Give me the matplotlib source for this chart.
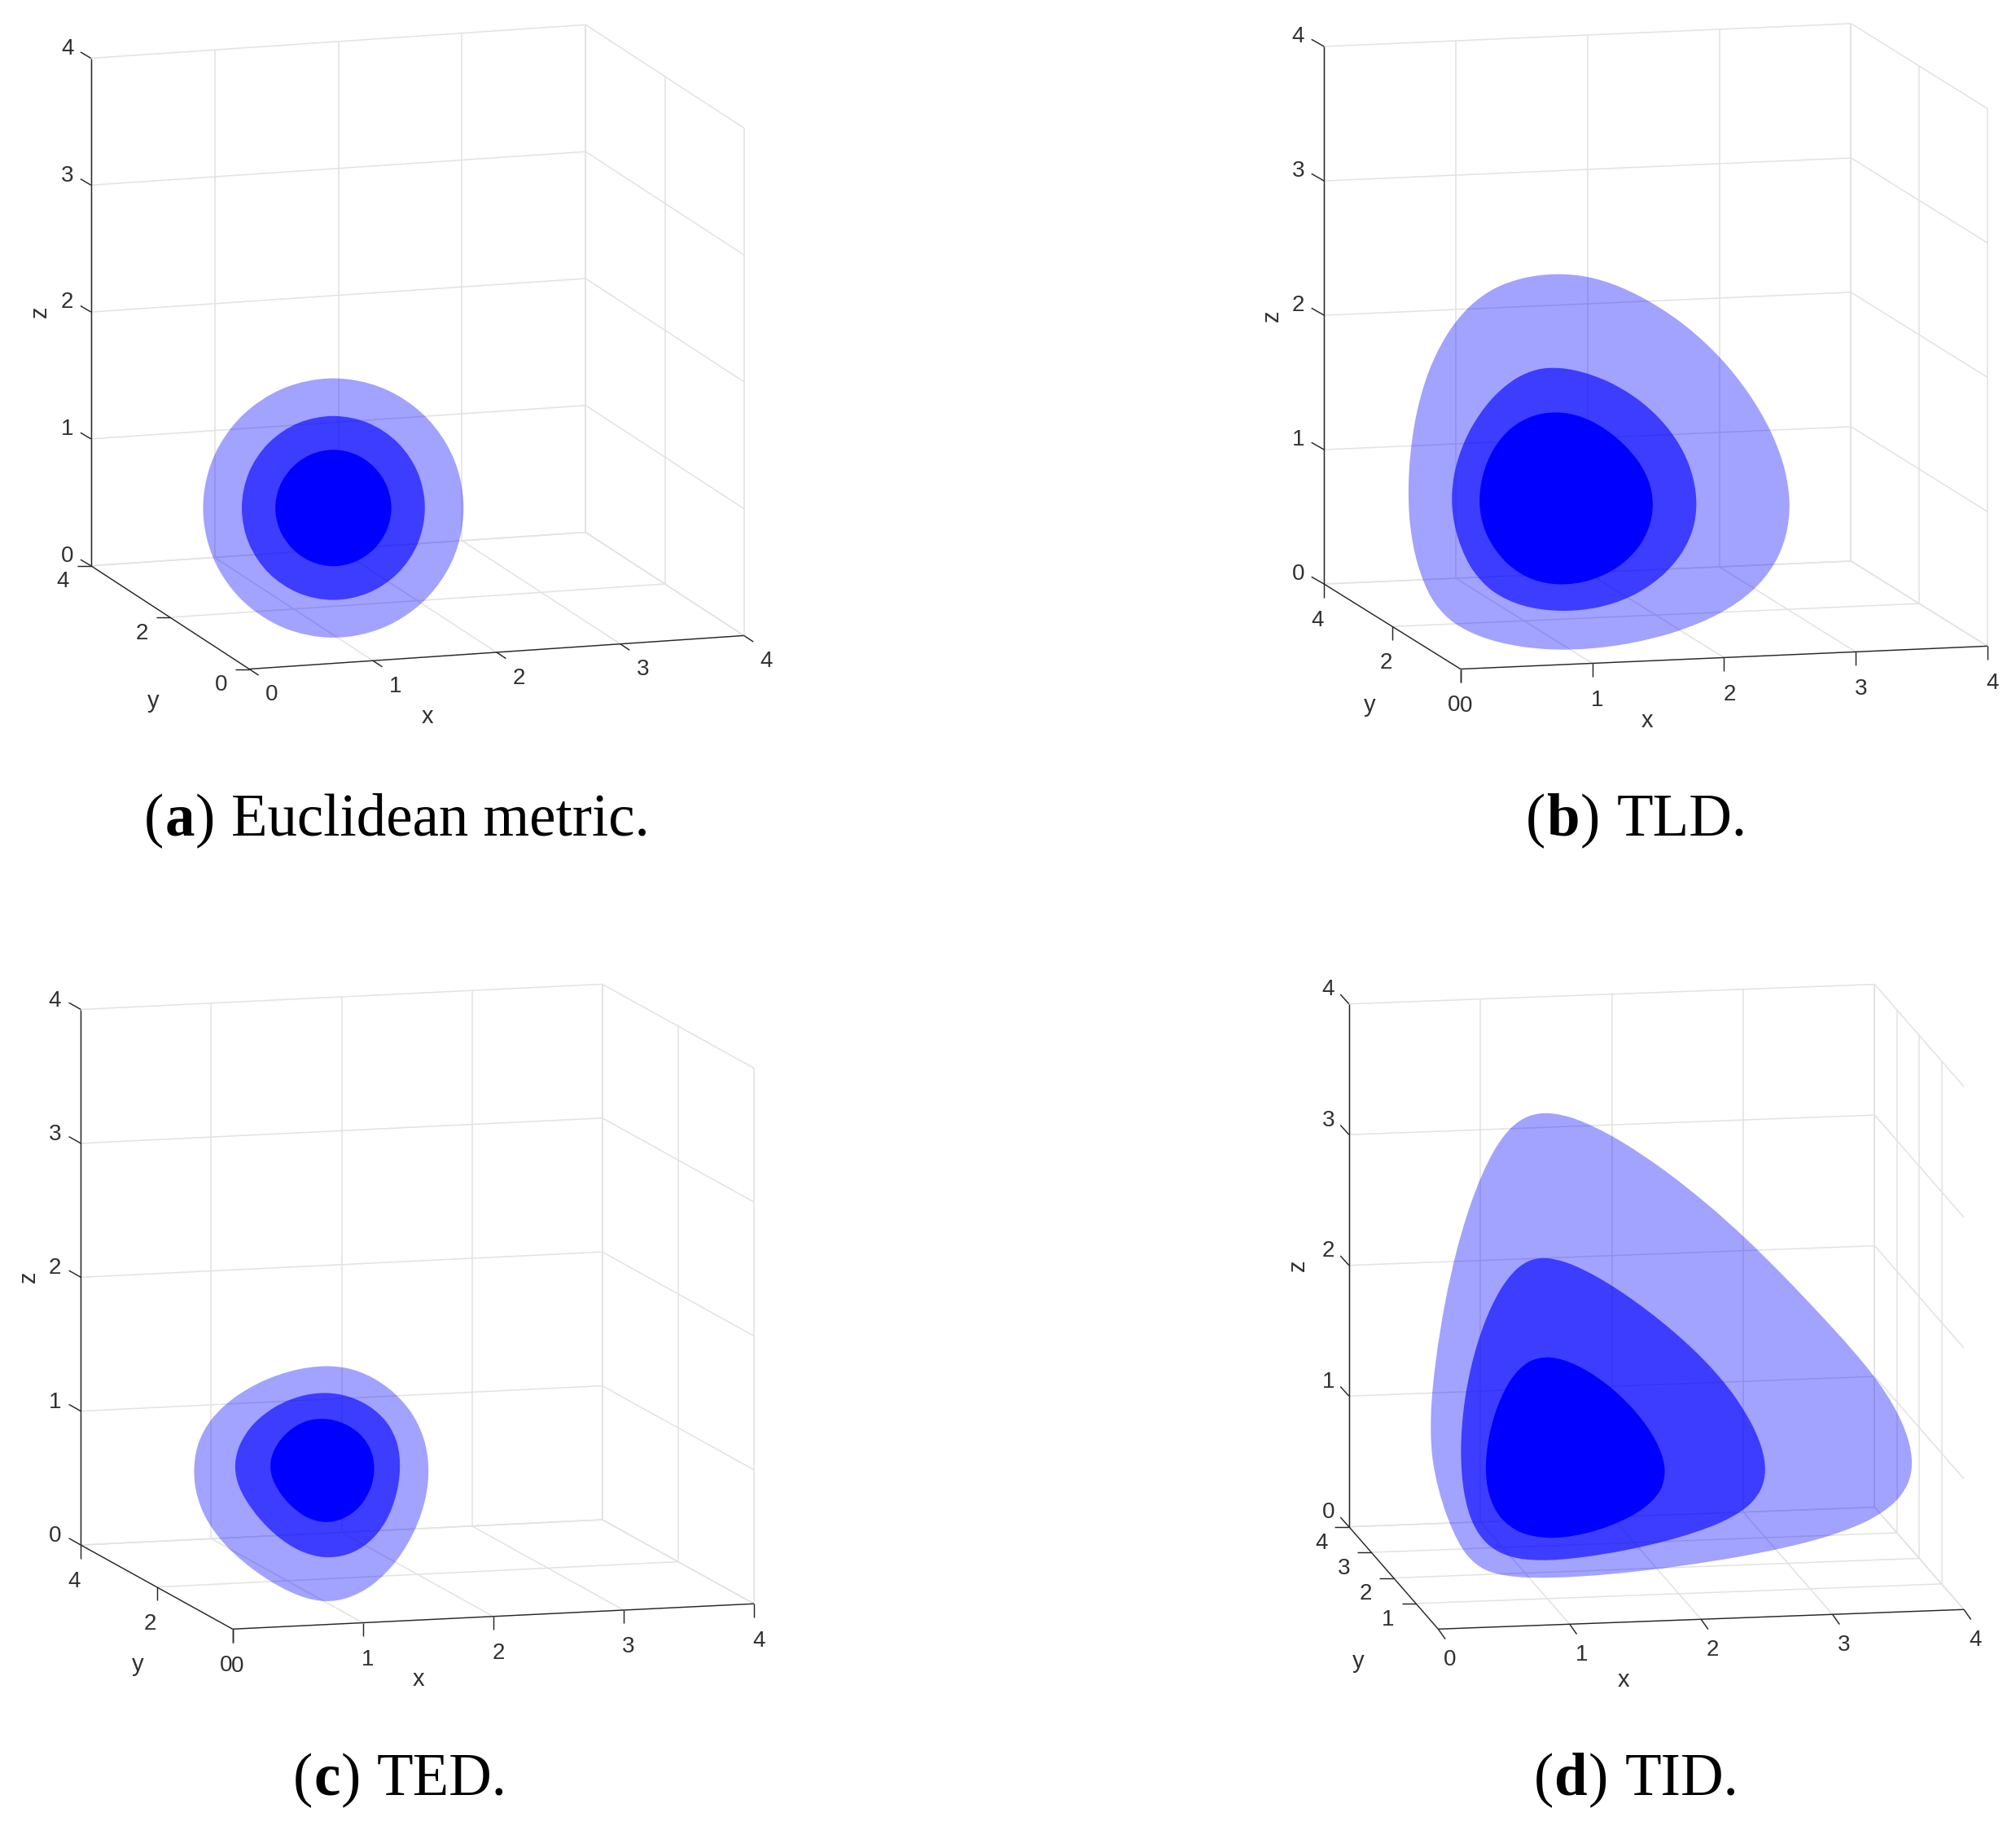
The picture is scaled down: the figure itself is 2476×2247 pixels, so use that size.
import numpy as np
import matplotlib
matplotlib.use("Agg")
import matplotlib.pyplot as plt
from matplotlib.path import Path
from matplotlib.patches import PathPatch

# ---- data: silhouettes of the three level surfaces, as (dx, dz) offsets in axis units
# ---- from the common centre point (x, y, z)
center = (1.0, 1.0, 1.0)

a_outer_dx = [1.05, .97, .74, .40, 0, -.40, -.74, -.97, -1.05, -.97, -.74, -.40, 0, .40, .74, .97]
a_outer_dz = [0, .39, .72, .94, 1.02, .94, .72, .39, 0, -.39, -.72, -.94, -1.02, -.94, -.72, -.39]
a_mid_dx = [.74, .68, .52, .28, 0, -.28, -.52, -.68, -.74, -.68, -.52, -.28, 0, .28, .52, .68]
a_mid_dz = [0, .28, .51, .67, .72, .67, .51, .28, 0, -.28, -.51, -.67, -.72, -.67, -.51, -.28]
a_inner_dx = [.47, .43, .33, .18, 0, -.18, -.33, -.43, -.47, -.43, -.33, -.18, 0, .18, .33, .43]
a_inner_dz = [0, .17, .32, .42, .46, .42, .32, .17, 0, -.17, -.32, -.42, -.46, -.42, -.32, -.17]

b_outer_dx = [0, .225, .451, .719, .987, 1.224, 1.44, 1.615, 1.718, 1.749, 1.724, 1.625, 1.481, 1.234, .904, .554, .245, 0, -.311, -.579, -.806, -.929, -1.022, -1.094, -1.135, -1.125, -1.073, -.991, -.847, -.672, -.496, -.27]
b_outer_dz = [1.733, 1.713, 1.642, 1.519, 1.333, 1.121, .848, .566, .283, .02, -.202, -.424, -.606, -.788, -.919, -1.004, -1.04, -1.051, -1.03, -.96, -.848, -.707, -.525, -.283, -.02, .303, .707, .99, 1.273, 1.495, 1.616, 1.707]
b_mid_dx = [0, .22, .43, .64, .81, .95, 1.02, 1.04, 1.02, .93, .78, .55, .31, 0, -.27, -.50, -.64, -.73, -.79, -.80, -.77, -.66, -.52, -.31, -.15]
b_mid_dz = [1.03, 1.00, .91, .78, .61, .42, .22, .02, -.16, -.34, -.51, -.66, -.74, -.76, -.73, -.62, -.47, -.28, -.08, .10, .34, .58, .81, .96, 1.02]
b_inner_dx = [0, .16, .33, .49, .62, .69, .71, .69, .60, .45, .25, 0, -.21, -.37, -.49, -.57, -.59, -.57, -.49, -.35, -.19]
b_inner_dz = [.70, .68, .60, .47, .33, .18, .02, -.14, -.30, -.44, -.54, -.57, -.53, -.42, -.28, -.12, .04, .24, .44, .60, .68]

c_outer_dx = [0, .17, .34, .53, .67, .75, .79, .77, .69, .55, .36, .17, 0, -.16, -.35, -.58, -.79, -.91, -.98, -1.00, -.96, -.87, -.70, -.47, -.24]
c_outer_dz = [.75, .74, .68, .56, .40, .22, 0, -.21, -.45, -.70, -.88, -.96, -.99, -.96, -.88, -.74, -.55, -.37, -.19, .01, .20, .36, .52, .65, .73]
c_mid_dx = [0, .17, .34, .48, .55, .57, .54, .46, .34, .17, 0, -.18, -.35, -.49, -.61, -.67, -.68, -.65, -.56, -.39, -.18]
c_mid_dz = [.55, .53, .46, .33, .18, 0, -.21, -.41, -.55, -.64, -.67, -.62, -.52, -.39, -.23, -.09, .01, .18, .32, .45, .54]
c_inner_dx = [0, .15, .27, .35, .37, .35, .27, .13, 0, -.14, -.26, -.36, -.41, -.41, -.36, -.24, -.12]
c_inner_dz = [.36, .33, .25, .13, 0, -.15, -.29, -.38, -.40, -.37, -.28, -.16, -.03, .05, .20, .30, .35]

d_outer_dx = [.02, .21, .50, .89, 1.21, 1.50, 1.80, 2.07, 2.31, 2.50, 2.66, 2.74, 2.77, 2.73, 2.63, 2.44, 2.07, 1.58, .97, .48, .04, -.26, -.48, -.60, -.72, -.82, -.88, -.88, -.85, -.77, -.69, -.59, -.50, -.38, -.26, -.14]
d_outer_dz = [2.70, 2.67, 2.54, 2.28, 2.01, 1.77, 1.46, 1.18, .90, .69, .43, .21, .03, -.11, -.26, -.41, -.54, -.66, -.75, -.81, -.84, -.82, -.77, -.67, -.46, -.19, .16, .35, .85, 1.29, 1.66, 1.98, 2.23, 2.47, 2.61, 2.68]
d_mid_dx = [.02, .21, .50, .87, 1.16, 1.36, 1.53, 1.63, 1.65, 1.61, 1.50, 1.33, .97, .60, .23, -.06, -.26, -.46, -.55, -.63, -.66, -.63, -.57, -.48, -.36, -.23, -.11]
d_mid_dz = [1.59, 1.55, 1.39, 1.12, .85, .63, .38, .14, -.01, -.17, -.31, -.41, -.54, -.63, -.68, -.70, -.68, -.58, -.43, -.19, .11, .48, .80, 1.09, 1.37, 1.52, 1.57]
d_inner_dx = [.02, .21, .45, .67, .82, .89, .86, .72, .53, .23, .02, -.21, -.36, -.44, -.46, -.44, -.38, -.26, -.14]
d_inner_dz = [.84, .79, .64, .43, .21, -.01, -.16, -.31, -.42, -.51, -.53, -.49, -.38, -.19, .01, .23, .47, .70, .80]

x_ticks = [0, 1, 2, 3, 4]
z_ticks = [0, 1, 2, 3, 4]
y_ticks_sparse = [0, 2, 4]
y_ticks_dense = [1, 2, 3, 4]
captions = ["Euclidean metric.", "TLD.", "TED.", "TID."]
caption_tags = ["a", "b", "c", "d"]

# ---- layout and style
W, H = 2476, 2247
plt.rcParams["font.family"] = ["Liberation Sans", "DejaVu Sans"]
GRID = "#e2e2e2"
AXIS = "#262626"
TEXT = "#303030"
FILLS = [("#0000ff", 0.365), ("#0000ff", 0.625), ("#0000ff", 1.0)]

panels = [
    dict(o=(306.1, 821.5), ex=(151.9, -10.27), ey=(-48.6, -31.7), ez=(0, -155.8),
         yt=y_ticks_sparse,
         shapes=[(a_outer_dx, a_outer_dz), (a_mid_dx, a_mid_dz), (a_inner_dx, a_inner_dz)],
         zt_off=(-12.8, -7.6), xt_off=(11.5, 7.6), yt_off=(-17, 0),
         zl_off=(-29, -11.7), yl_off=(-34.4, 19.7), xl_off=(27.4, 31.7),
         zlab=(48.5, 382.6), ylab=(188, 860.8), xlab=(524.9, 880.1),
         cap=(177, 1026)),
    dict(o=(1793.8, 821.5), ex=(161.8, -7.04), ey=(-41.9, -26.1), ez=(0, -165.0),
         yt=y_ticks_sparse,
         shapes=[(b_outer_dx, b_outer_dz), (b_mid_dx, b_mid_dz), (b_inner_dx, b_inner_dz)],
         zt_off=(-15.5, -8.8), xt_off=(0, 16.5), yt_off=(0, 16.5),
         zl_off=(-32, -12.3), yl_off=(-8, 44.8), xl_off=(6.5, 45.2),
         zlab=(1562.2, 387.3), ylab=(1681.8, 865.5), xlab=(2022.8, 884.8),
         cap=(1874, 1026)),
    dict(o=(285.7, 2000.3), ex=(160.1, -7.77), ey=(-46.6, -25.8), ez=(0, -164.4),
         yt=y_ticks_sparse,
         shapes=[(c_outer_dx, c_outer_dz), (c_mid_dx, c_mid_dz), (c_inner_dx, c_inner_dz)],
         zt_off=(-14.7, -8.3), xt_off=(0, 16.5), yt_off=(0, 16.5),
         zl_off=(-32, -11), yl_off=(-8.5, 45), xl_off=(6, 45.5),
         zlab=(35, 1567.3), ylab=(169.6, 2044.3), xlab=(514, 2061.9),
         cap=(360, 2204)),
    dict(o=(1766.4, 2000.3), ex=(161.4, -6.01), ey=(-27.4, -31.4), ez=(0, -160.5),
         yt=y_ticks_dense,
         shapes=[(d_outer_dx, d_outer_dz), (d_mid_dx, d_mid_dz), (d_inner_dx, d_inner_dz)],
         zt_off=(-10.6, -11.7), xt_off=(8.7, 12.3), yt_off=(-17.4, 0),
         zl_off=(-25.5, -17.6), yl_off=(-34, 19.8), xl_off=(14.5, 37.7),
         zlab=(1594, 1553.8), ylab=(1668, 2039.6), xlab=(1993.6, 2063),
         cap=(1884, 2204)),
]

fig = plt.figure(figsize=(W / 100, H / 100), dpi=100, facecolor="white")
ax = fig.add_axes([0, 0, 1, 1])
ax.set_xlim(0, W)
ax.set_ylim(H, 0)
ax.axis("off")


def project(p, x, y, z):
    return (p["o"][0] + x * p["ex"][0] + y * p["ey"][0] + z * p["ez"][0],
            p["o"][1] + x * p["ex"][1] + y * p["ey"][1] + z * p["ez"][1])


def seg(p, a, b, color, lw, zorder):
    A, B = project(p, *a), project(p, *b)
    ax.plot([A[0], B[0]], [A[1], B[1]], color=color, lw=lw, zorder=zorder,
            solid_capstyle="butt")


def closed_smooth(px, py):
    # size-preserving (Taubin) fairing of the hand-read points, then a closed
    # cubic Bezier through them with chord-length Catmull-Rom tangents
    P = np.column_stack([px, py]).astype(float)
    for _ in range(4):
        for w in (0.5, -0.53):
            P = P + w * ((np.roll(P, 1, axis=0) + np.roll(P, -1, axis=0)) / 2 - P)
    n = len(P)
    d = np.hypot(*(np.roll(P, -1, axis=0) - P).T)
    m = (np.roll(P, -1, axis=0) - np.roll(P, 1, axis=0)) / (d + np.roll(d, 1))[:, None]
    verts, codes = [P[0]], [Path.MOVETO]
    for i in range(n):
        j = (i + 1) % n
        verts += [P[i] + m[i] * d[i] / 3, P[j] - m[j] * d[i] / 3, P[j]]
        codes += [Path.CURVE4] * 3
    return Path(verts, codes)


for p in panels:
    # grid on walls y=4, x=4 and on the floor
    for t in x_ticks:
        seg(p, (t, 4, 0), (t, 4, 4), GRID, 1.1, 1)
        if t > 0:
            seg(p, (t, 0, 0), (t, 4, 0), GRID, 1.1, 1)
    for t in z_ticks:
        seg(p, (0, 4, t), (4, 4, t), GRID, 1.1, 1)
        seg(p, (4, 4, t), (4, 0, t), GRID, 1.1, 1)
    for t in p["yt"]:
        seg(p, (4, t, 0), (4, t, 4), GRID, 1.1, 1)
        if t > 0:
            seg(p, (0, t, 0), (4, t, 0), GRID, 1.1, 1)

    # surfaces
    cu, cv = project(p, *center)
    for (dx, dz), (col, alpha) in zip(p["shapes"], FILLS):
        px = cu + np.asarray(dx) * p["ex"][0]
        py = cv + np.asarray(dz) * p["ez"][1]
        ax.add_patch(PathPatch(closed_smooth(px, py), facecolor=col, alpha=alpha,
                               edgecolor="none", lw=0, zorder=2))

    # axis lines
    seg(p, (0, 0, 0), (4, 0, 0), AXIS, 1.05, 3)
    seg(p, (0, 0, 0), (0, 4, 0), AXIS, 1.05, 3)
    seg(p, (0, 4, 0), (0, 4, 4), AXIS, 1.05, 3)

    def tick(anchor, off, lab_off, label):
        ax.plot([anchor[0], anchor[0] + off[0]], [anchor[1], anchor[1] + off[1]],
                color=AXIS, lw=1.05, zorder=3, solid_capstyle="butt")
        ax.text(anchor[0] + lab_off[0], anchor[1] + lab_off[1], str(label), fontsize=20,
                color=TEXT, ha="center", va="center", zorder=4)

    for t in x_ticks:
        tick(project(p, t, 0, 0), p["xt_off"], p["xl_off"], t)
    for t in p["yt"]:
        tick(project(p, 0, t, 0), p["yt_off"], p["yl_off"], t)
    for t in z_ticks:
        tick(project(p, 0, 4, t), p["zt_off"], p["zl_off"], t)

    ax.text(*p["xlab"], "x", fontsize=21, color=TEXT, ha="center", va="center")
    ax.text(*p["ylab"], "y", fontsize=21, color=TEXT, ha="center", va="center")
    ax.text(*p["zlab"], "z", fontsize=21, color=TEXT, ha="center", va="center", rotation=90)

# captions: "(" + bold tag + ")" + text, chained from left to right
renderer = fig.canvas.get_renderer()
for p, tag, cap in zip(panels, caption_tags, captions):
    x, y = p["cap"]
    for s, weight, gap in (("(", "normal", 0), (tag, "bold", 1), (")", "normal", 1), (cap, "normal", 20)):
        x += gap
        t = ax.text(x, y, s, family="Liberation Serif", fontsize=52.5, fontweight=weight,
                    color="black", ha="left", va="baseline")
        x = t.get_window_extent(renderer).x1

fig.savefig("out.png", dpi=100, facecolor="white")
